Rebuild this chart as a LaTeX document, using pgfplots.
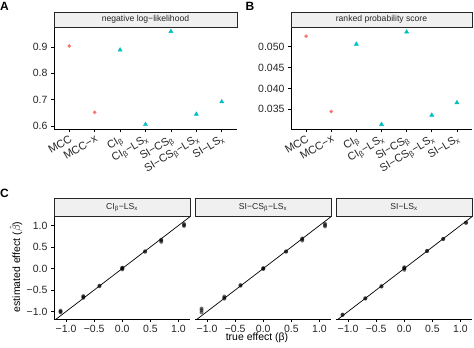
\documentclass[border=0pt]{standalone}
\usepackage{pgfplots}
\pgfplotsset{compat=1.18}
\usepackage{fontspec}
\setmainfont{Liberation Sans}
\definecolor{gred}{HTML}{F8766D}
\definecolor{gteal}{HTML}{00BFC4}
\definecolor{stripgray}{HTML}{F0F0F0}
\newcommand\sub[1]{\textsubscript{#1}}
\pgfplotsset{
  gg/.style={
    scale only axis,
    axis line style={-, line width=0.7pt, black},
    x axis line style={-}, y axis line style={-},
    tick align=outside, major tick length=3pt,
    tick style={line width=0.6pt, black},
    ticklabel style={font=\fontsize{10.5}{12}\selectfont, text=black!85},
    scaled ticks=false,
  },
  cat/.style={
    gg, axis lines*=left,
    xmin=0.4, xmax=7.6, xtick={1,...,7},
    xticklabels={MCC, MCC−x, CI\sub{β}, CI\sub{β}−LS\sub{x}, SI−CS\sub{β}, SI−CS\sub{β}−LS\sub{x}, SI−LS\sub{x}},
    xticklabel style={rotate=31, anchor=north east, inner sep=1.5pt, font=\fontsize{11}{12}\selectfont},
    width=183pt, height=102pt,
  },
  eff/.style={
    gg, xmin=-1.215, xmax=1.205, ymin=-1.174, ymax=1.205,
    xtick={-1,-0.5,0,0.5,1}, xticklabels={−1.0,−0.5,0.0,0.5,1.0},
    ytick={-1,-0.5,0,0.5,1}, yticklabels={−1.0,−0.5,0.0,0.5,1.0},
    width=136pt, height=102.3pt,
  },
  rep/.style={only marks, mark=*, mark size=2pt, mark options={draw opacity=0, fill=black, fill opacity=0.55}},
}
\begin{document}
\begin{tikzpicture}
\useasboundingbox (0pt,0pt) rectangle (474pt,-348pt);
% Panel A
\begin{axis}[cat, at={(54pt,-27pt)}, anchor=north west, ymin=0.589, ymax=0.975,
  ytick={0.6,0.7,0.8,0.9}, yticklabels={0.6,0.7,0.8,0.9}]
\addplot[only marks, mark=*, mark size=1.6pt, gred] coordinates {(1,0.903) (2,0.652)};
\addplot[only marks, mark=triangle*, mark size=2.4pt, gteal] coordinates {(3,0.888) (4,0.606) (5,0.958) (6,0.645) (7,0.692)};
\end{axis}
% Panel B
\begin{axis}[cat, at={(291pt,-27pt)}, anchor=north west, width=181pt, ymin=0.0303, ymax=0.0547,
  ytick={0.035,0.040,0.045,0.050}, yticklabels={0.035,0.040,0.045,0.050}]
\addplot[only marks, mark=*, mark size=1.6pt, gred] coordinates {(1,0.0525) (2,0.0345)};
\addplot[only marks, mark=triangle*, mark size=2.4pt, gteal] coordinates {(3,0.0506) (4,0.0314) (5,0.0535) (6,0.0336) (7,0.0366)};
\end{axis}
% Panel C1
\begin{axis}[eff, axis lines*=left, at={(54pt,-216.7pt)}, anchor=north west]
\addplot[black, line width=0.7pt] coordinates {(-1.4,-1.4) (1.4,1.4)};
\addplot[rep] coordinates {
(-1.0986,-1.00) (-1.0986,-0.98) (-1.0986,-1.02)
(-0.6931,-0.66) (-0.6931,-0.64) (-0.6931,-0.68)
(-0.4055,-0.40) (-0.4055,-0.41)
(0,0.00) (0,0.02) (0,-0.02) (0,0.01)
(0.4055,0.39) (0.4055,0.40)
(0.6931,0.65) (0.6931,0.67) (0.6931,0.62)
(1.0986,1.01) (1.0986,1.04) (1.0986,0.99)};
\end{axis}
% Panel C2
\begin{axis}[eff, axis x line*=bottom, axis y line=none, at={(195pt,-216.7pt)}, anchor=north west]
\addplot[black, line width=0.7pt] coordinates {(-1.4,-1.4) (1.4,1.4)};
\addplot[rep] coordinates {
(-1.0986,-0.97) (-1.0986,-0.93) (-1.0986,-1.02)
(-0.6931,-0.68) (-0.6931,-0.65) (-0.6931,-0.70)
(-0.4055,-0.385) (-0.4055,-0.40)
(0,0.00) (0,0.01) (0,-0.01)
(0.4055,0.39) (0.4055,0.40)
(0.6931,0.68) (0.6931,0.65) (0.6931,0.70)
(1.0986,1.01) (1.0986,0.98) (1.0986,1.04)};
\end{axis}
% Panel C3
\begin{axis}[eff, axis x line*=bottom, axis y line=none, at={(336pt,-216.7pt)}, anchor=north west]
\addplot[black, line width=0.7pt] coordinates {(-1.4,-1.4) (1.4,1.4)};
\addplot[rep] coordinates {
(-1.0986,-1.08) (-1.0986,-1.07)
(-0.6931,-0.69) (-0.6931,-0.70)
(-0.4055,-0.42) (-0.4055,-0.41)
(0,0.00) (0,0.03) (0,-0.03) (0,0.01)
(0.4055,0.405) (0.4055,0.41)
(0.6931,0.686) (0.6931,0.69)
(1.0986,1.06) (1.0986,1.07)};
\end{axis}
% strips
\tikzset{strip/.style={draw=black!85, line width=0.7pt, fill=stripgray}}
\tikzset{striptext/.style={font=\fontsize{8.6}{10}\selectfont, text=black!85}}
\draw[strip] (54pt,-12pt) rectangle (237pt,-27pt);
\node[striptext] at (145.5pt,-19.5pt) {negative log−likelihood};
\draw[strip] (291pt,-12pt) rectangle (472pt,-27pt);
\node[striptext] at (381.5pt,-19.5pt) {ranked probability score};
\draw[strip] (54pt,-198pt) rectangle (190pt,-216.7pt);
\node[striptext] at (122pt,-207.3pt) {CI\sub{β}−LS\sub{x}};
\draw[strip] (195pt,-198pt) rectangle (331pt,-216.7pt);
\node[striptext] at (263pt,-207.3pt) {SI−CS\sub{β}−LS\sub{x}};
\draw[strip] (336pt,-198pt) rectangle (472pt,-216.7pt);
\node[striptext] at (404pt,-207.3pt) {SI−LS\sub{x}};
% labels
\node[font=\fontsize{12}{14}\selectfont\bfseries] at (4.5pt,-6.5pt) {A};
\node[font=\fontsize{12}{14}\selectfont\bfseries] at (250pt,-6.5pt) {B};
\node[font=\fontsize{12}{14}\selectfont\bfseries] at (4.5pt,-193pt) {C};
\node[rotate=90, font=\fontsize{10.5}{12}\selectfont] at (16pt,-267pt) {estimated effect (\(\hat{\beta}\))};
\node[font=\fontsize{10.5}{12}\selectfont] at (257pt,-338pt) {true effect (β)};
\end{tikzpicture}
\end{document}
